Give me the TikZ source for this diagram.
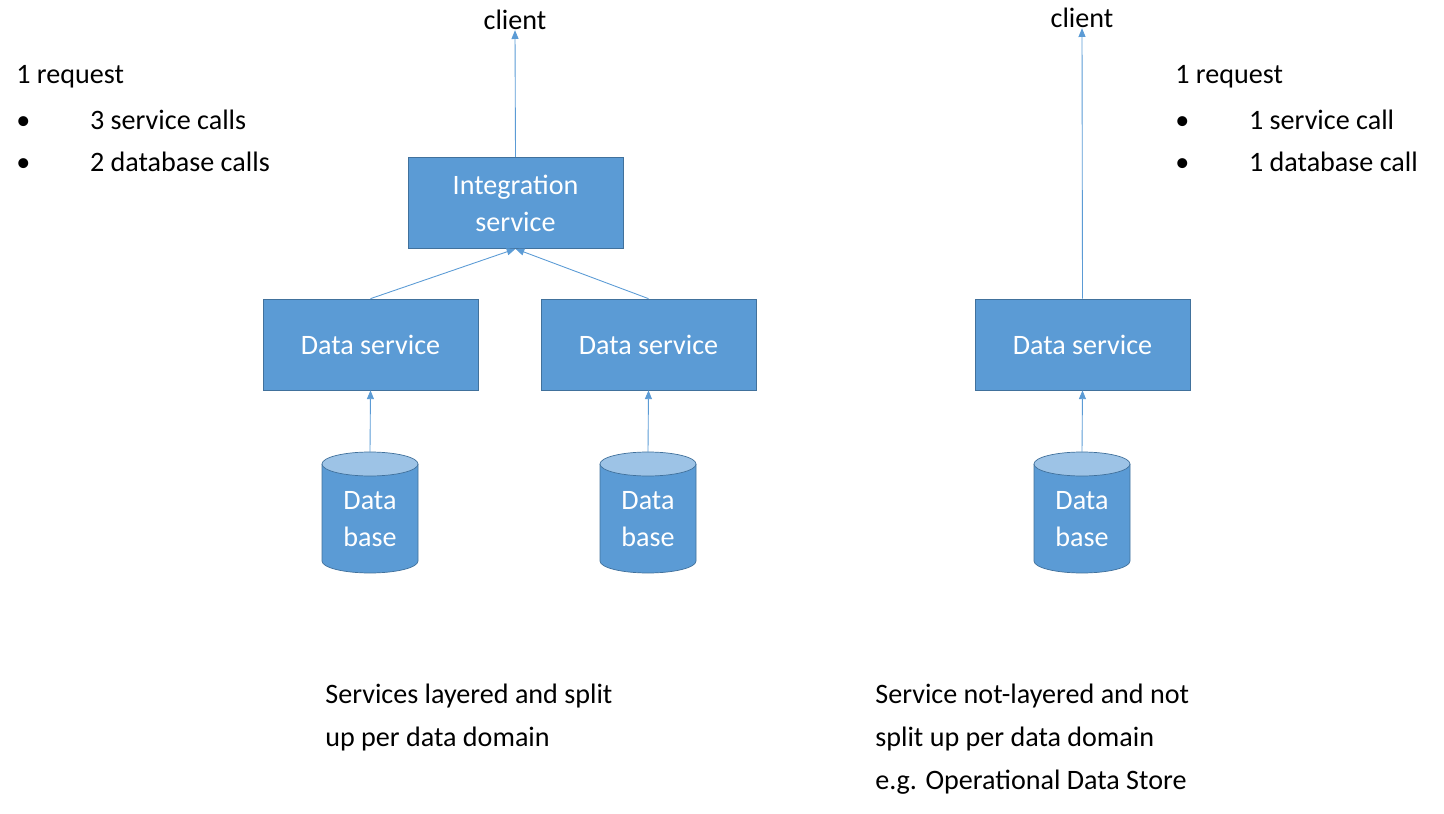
\documentclass[tikz,border=0pt]{standalone}
\usepackage{fontspec}
\setmainfont{Carlito}
\usetikzlibrary{arrows.meta}
\definecolor{bfill}{HTML}{5B9BD5}
\definecolor{bline}{HTML}{41719C}
\definecolor{btop}{HTML}{9DC3E6}
\begin{document}
\begin{tikzpicture}[x=0.02cm,y=-0.02cm,
  box/.style={draw=bline,fill=bfill,text=white,minimum width=215*0.02cm,minimum height=91*0.02cm,align=center,font=\fontsize{16}{21}\selectfont,inner sep=0pt},
  lbl/.style={font=\fontsize{16}{21}\selectfont,align=left,inner sep=0pt},
  dbt/.style={text=white,font=\fontsize{16}{21}\selectfont,align=center,inner sep=0pt},
  arr/.style={draw=bfill,line width=0.5pt,-{Triangle[length=5pt,width=4pt]}}]
\useasboundingbox (0,0) rectangle (1444,814);
\newcommand{\mydb}[3]{%
  \fill[bfill] (#1-48,464) -- (#1-48,561) arc[start angle=180,end angle=360,x radius=48,y radius=-12] -- (#1+48,464) -- cycle;
  \draw[bline] (#1-48,464) -- (#1-48,561) arc[start angle=180,end angle=360,x radius=48,y radius=-12] -- (#1+48,464);
  \filldraw[fill=btop,draw=bline] (#1,464) ellipse[x radius=48,y radius=12];
  \node[dbt] (#2) at (#1,519) {Data\\base};
  \coordinate (#3) at (#1,452);}
\node[lbl] (c1) at (515,20) {client};
\node[lbl] (c2) at (1082,18) {client};
\node[box] (int) at (515.5,203) {Integration\\service};
\node[box] (ds1) at (370.5,344.5) {Data service};
\node[box] (ds2) at (648.5,344.5) {Data service};
\node[box] (ds3) at (1082.5,344.5) {Data service};
\mydb{370}{db1}{t1}
\mydb{648}{db2}{t2}
\mydb{1082}{db3}{t3}
\draw[arr] (t1) -- (ds1.south);
\draw[arr] (t2) -- (ds2.south);
\draw[arr] (t3) -- (ds3.south);
\draw[arr] (ds1.north) -- (int.south);
\draw[arr] (ds2.north) -- (int.south);
\draw[arr] (int.north) -- (c1.south);
\draw[arr] (ds3.north) -- (c2.south);
\node[lbl,anchor=west] (r1) at (16,77) {1 request};
\node[lbl,anchor=west] (b1) at (16,120) {•\hspace{34pt}3 service calls};
\node[lbl,anchor=west] (b2) at (16,162) {•\hspace{34pt}2 database calls};
\node[lbl,anchor=west] (r2) at (1175,77) {1 request};
\node[lbl,anchor=west] (b3) at (1175,120) {•\hspace{34pt}1 service call};
\node[lbl,anchor=west] (b4) at (1175,162) {•\hspace{34pt}1 database call};
\node[lbl,anchor=north west,font=\fontsize{16}{24.4}\selectfont] (n1) at (325,684) {Services layered and split\\up per data domain};
\node[lbl,anchor=north west,font=\fontsize{16}{24.4}\selectfont] (n2) at (875,684) {Service not-layered and not\\split up per data domain\\e.g. Operational Data Store};
\end{tikzpicture}
\end{document}
